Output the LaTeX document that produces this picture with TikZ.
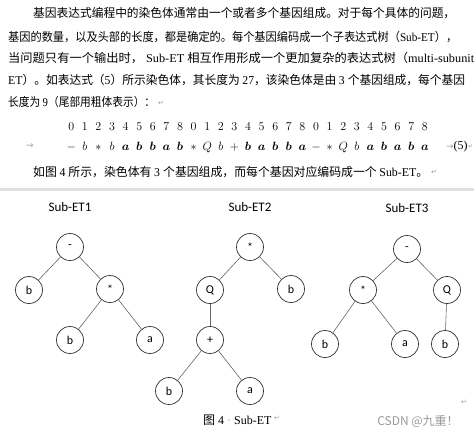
\documentclass[tikz,border=0pt]{standalone}
\usepackage{fontspec}
\usepackage{amsmath}
\usepackage{graphicx}
\usepackage{xcolor}
\usepackage{tikz}
\usetikzlibrary{matrix}
\setmainfont{Liberation Serif}
\newfontfamily\cjk{Noto Sans CJK SC}
\newfontfamily\calib{Carlito}
\newfontfamily\dejavu{DejaVu Sans}
\definecolor{markgray}{gray}{0.62}
\definecolor{edgegray}{gray}{0.4}
\tikzstyle{para} = [anchor=west, inner sep=0pt, font=\fontsize{12}{14}\selectfont]
\tikzstyle{retmark} = [anchor=west, inner sep=0pt, text=markgray, font=\dejavu\fontsize{7}{8}\selectfont]
\tikzstyle{gene} = [circle, draw=black!80, line width=0.7pt, minimum size=27pt, inner sep=0pt, font=\calib\fontsize{12}{14}\selectfont]
\tikzstyle{link} = [draw=edgegray, line width=0.6pt]
\tikzstyle{title} = [font=\calib\fontsize{13}{15}\selectfont]

\begin{document}
\begin{tikzpicture}[x=1pt,y=-1pt]
   \useasboundingbox (0,0) rectangle (474,434);
   % paragraph
   \node[para] (l1) at (33,13) {\resizebox{422pt}{\height}{\cjk 基因表达式编程中的染色体通常由一个或者多个基因组成。对于每个具体的问题，}};
   \node[para] (l2) at (8,37) {\resizebox{449pt}{\height}{{\cjk 基因的数量，以及头部的长度，都是确定的。每个基因编码成一个子表达式树（}Sub-ET{\cjk ），}}};
   \node[para] (l3) at (8,58) {\resizebox{466pt}{\height}{{\cjk 当问题只有一个输出时，} Sub-ET {\cjk 相互作用形成一个更加复杂的表达式树（}multi-subunit}};
   \node[para] (l4) at (8,80) {\resizebox{457pt}{\height}{ET{\cjk ）。如表达式（}5{\cjk ）所示染色体，其长度为 }27{\cjk ，该染色体是由 }3 {\cjk 个基因组成，每个基因}}};
   \node[para] (l5) at (8,102) {\resizebox{147pt}{\height}{{\cjk 长度为 }9{\cjk （尾部用粗体表示）：}}};
   \node[retmark] (r5) at (158,103) {↵};

   % chromosome
   \node[retmark,font=\dejavu\fontsize{9}{10}\selectfont] (tab1) at (26,146) {→};
   \matrix (chrom) [matrix of math nodes,nodes={minimum width=13.6pt,minimum height=14pt,inner sep=0pt,font=\fontsize{11.5}{13}\selectfont},row sep=6pt,column sep=0pt] at (248,137) {
   0 & 1 & 2 & 3 & 4 & 5 & 6 & 7 & 8 & 0 & 1 & 2 & 3 & 4 & 5 & 6 & 7 & 8 & 0 & 1 & 2 & 3 & 4 & 5 & 6 & 7 & 8 \\
   - & b & * & b & \boldsymbol{a} & \boldsymbol{b} & \boldsymbol{b} & \boldsymbol{a} & \boldsymbol{b} & * & Q & b & + & \boldsymbol{b} & \boldsymbol{a} & \boldsymbol{b} & \boldsymbol{b} & \boldsymbol{a} & - & * & Q & b & \boldsymbol{a} & \boldsymbol{b} & \boldsymbol{a} & \boldsymbol{b} & \boldsymbol{a} \\
   };
   \node[para] (eqno) at (446,147) {{\color{markgray}\dejavu\fontsize{9}{10}\selectfont →}(5)};
   \node[retmark,font=\dejavu\fontsize{6}{7}\selectfont] (r7) at (eqno.east) {↵};

   \node[para] (l8) at (33,172) {\resizebox{395pt}{\height}{{\cjk 如图 }4 {\cjk 所示，染色体有 }3 {\cjk 个基因组成，而每个基因对应编码成一个 }Sub-ET{\cjk 。}}};
   \node[retmark] (r8) at (431,172) {↵};

   \fill[black!12] (0,188) rectangle (474,190.5);

   % Sub-ET1
   \node[title] (h1) at (70,207) {Sub-ET1};
   \node[gene] (et1-root) at (70,247) {-};
   \node[gene] (et1-b) at (29,290) {b};
   \node[gene] (et1-star) at (110,289) {*};
   \node[gene] (et1-sb) at (70,340) {b};
   \node[gene] (et1-sa) at (150,340) {a};

   % Sub-ET2
   \node[title] (h2) at (250,207) {Sub-ET2};
   \node[gene] (et2-root) at (250,247) {*};
   \node[gene] (et2-q) at (210,290) {Q};
   \node[gene] (et2-b) at (291,289) {b};
   \node[gene] (et2-plus) at (210,340) {+};
   \node[gene] (et2-pb) at (169,391) {b};
   \node[gene] (et2-pa) at (250,391) {a};

   % Sub-ET3
   \node[title] (h3) at (407,208) {Sub-ET3};
   \node[gene] (et3-root) at (407,249) {-};
   \node[gene] (et3-star) at (363,290) {*};
   \node[gene] (et3-q) at (447,290) {Q};
   \node[gene] (et3-sb) at (325,344) {b};
   \node[gene] (et3-sa) at (405,344) {a};
   \node[gene] (et3-qb) at (445,344) {b};

   \foreach \p/\c in {et1-root/et1-b,et1-root/et1-star,et1-star/et1-sb,et1-star/et1-sa,
                      et2-root/et2-q,et2-root/et2-b,et2-q/et2-plus,et2-plus/et2-pb,et2-plus/et2-pa,
                      et3-root/et3-star,et3-root/et3-q,et3-star/et3-sb,et3-star/et3-sa,et3-q/et3-qb}
      \draw[link] (\p) -- (\c);

   % caption
   \node[para] (cap) at (203,420) {{\cjk 图} 4 {\color{markgray}·} Sub-ET};
   \node[retmark] (rc) at (274,418) {↵};
   \node[retmark] (rw) at (461,402) {↵};
   \node[text=black!40,font=\cjk\fontsize{12}{14}\selectfont] (wm) at (418,422) {CSDN @九重！};
\end{tikzpicture}
\end{document}
